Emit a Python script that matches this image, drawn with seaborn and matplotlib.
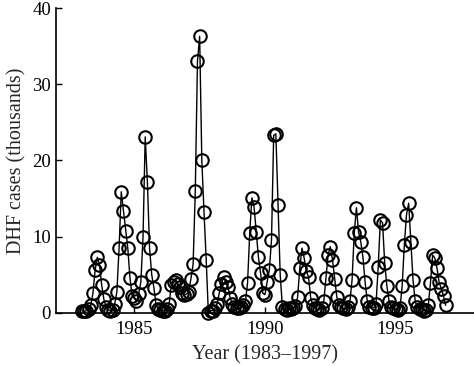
"""
Monthly DHF cases (thousands), 1983-1996, drawn as a line with open
circle markers in the style of the original journal figure.
"""
import numpy as np
import pandas as pd
import matplotlib
matplotlib.use("Agg")
import matplotlib.pyplot as plt
import seaborn as sns

# monthly values (thousands), Jan..Dec
dhf_1983 = [0.3, 0.2, 0.3, 0.5, 1.0, 2.6, 5.6, 7.3, 6.3, 3.7, 1.8, 0.8]
dhf_1984 = [0.4, 0.3, 0.4, 1.2, 2.8, 8.5, 15.9, 13.4, 10.8, 8.5, 4.6, 2.2]
dhf_1985 = [2.0, 1.5, 2.5, 4.1, 10.0, 23.1, 17.2, 8.5, 5.0, 3.3, 1.0, 0.5]
dhf_1986 = [0.4, 0.3, 0.3, 0.5, 1.2, 3.7, 4.0, 4.3, 3.8, 3.4, 2.6, 2.3]
dhf_1987 = [2.5, 2.8, 4.5, 6.4, 16.0, 33.0, 36.3, 20.0, 13.3, 7.0, 0.0, 0.3]
dhf_1988 = [0.3, 0.6, 1.2, 2.6, 3.8, 4.7, 4.0, 3.4, 2.0, 1.2, 0.8, 0.6]
dhf_1989 = [0.6, 0.8, 1.0, 1.5, 3.9, 10.5, 15.1, 13.9, 10.6, 7.3, 5.2, 2.6]
dhf_1990 = [2.4, 4.1, 5.6, 9.6, 23.3, 23.5, 14.2, 5.0, 0.8, 0.5, 0.4, 0.6]
dhf_1991 = [0.5, 0.6, 0.9, 2.1, 5.9, 8.5, 7.2, 5.5, 4.7, 2.0, 1.0, 0.6]
dhf_1992 = [0.5, 0.4, 0.7, 1.5, 4.6, 7.6, 8.7, 7.0, 4.5, 2.1, 1.0, 0.8]
dhf_1993 = [0.6, 0.5, 0.8, 1.5, 4.3, 10.5, 13.8, 10.6, 9.3, 7.3, 4.0, 1.5]
dhf_1994 = [0.8, 0.6, 0.7, 1.2, 6.0, 12.2, 11.8, 6.5, 3.5, 1.5, 0.8, 0.6]
dhf_1995 = [0.5, 0.4, 0.6, 3.5, 8.9, 12.9, 14.4, 9.3, 4.3, 1.5, 0.8, 0.5]
dhf_1996 = [0.5, 0.3, 0.4, 1.0, 3.9, 7.6, 7.2, 5.9, 4.0, 3.2, 2.2, 1.0]

years = list(range(1983, 1997))
x_ticks = [1985, 1990, 1995]
y_ticks = [0, 10, 20, 30, 40]


def build_frame():
    """Stacks the yearly lists into one long table with a decimal time."""
    series = [dhf_1983, dhf_1984, dhf_1985, dhf_1986, dhf_1987, dhf_1988,
              dhf_1989, dhf_1990, dhf_1991, dhf_1992, dhf_1993, dhf_1994,
              dhf_1995, dhf_1996]
    rows = []
    for year, values in zip(years, series):
        for month, v in enumerate(values):
            rows.append({"time": year + month / 12, "cases": v})
    return pd.DataFrame(rows)


def main():
    df = build_frame()

    sns.set_style("ticks")
    plt.rcParams["font.family"] = ["Liberation Serif", "DejaVu Serif"]
    plt.rcParams["xtick.direction"] = "in"
    plt.rcParams["ytick.direction"] = "in"

    fig = plt.figure(figsize=(4.74, 3.66), dpi=100)
    ax = fig.add_axes([0.118, 0.145, 0.882, 0.833])

    sns.lineplot(data=df, x="time", y="cases", ax=ax, color="black",
                 linewidth=1.0, marker="o", markersize=9,
                 markerfacecolor="none", markeredgecolor="black",
                 markeredgewidth=1.5, estimator=None, clip_on=False)

    ax.set_xlim(1982, 1998)
    ax.set_ylim(0, 40)
    ax.set_xticks(x_ticks)
    ax.set_yticks(y_ticks)
    ax.tick_params(labelsize=13.5, length=4, width=1, colors="black")
    ax.tick_params(axis="x", pad=6)
    ax.set_xlabel("Year (1983\u20131997)", fontsize=14.5, labelpad=5)
    ax.set_ylabel("DHF cases (thousands)", fontsize=14.5, labelpad=4)
    sns.despine(ax=ax)
    for side in ["left", "bottom"]:
        ax.spines[side].set_linewidth(1.2)
        ax.spines[side].set_color("black")

    fig.savefig("out.png", dpi=100)


if __name__ == '__main__':
    main()
